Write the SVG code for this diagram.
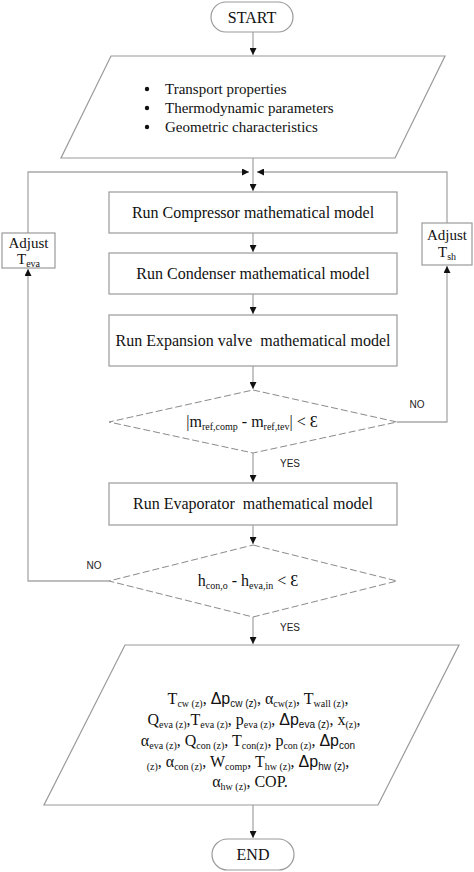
<svg xmlns="http://www.w3.org/2000/svg" width="474" height="872" viewBox="0 0 474 872">
<style>
.bx{fill:#fff;stroke:#9a9a9a;stroke-width:1.2}
.dm{fill:#fff;stroke:#8a8a8a;stroke-width:1;stroke-dasharray:7 3}
.ln{fill:none;stroke:#a8a8a8;stroke-width:1.3}
.t{font-family:"Liberation Serif","Times New Roman",serif;fill:#111}
.s{font-family:"Liberation Sans",Arial,sans-serif;fill:#111}
.lb{font-family:"Liberation Sans",Arial,sans-serif;font-size:10px;fill:#222}
.sb{font-size:10px;baseline-shift:-3px}
</style>
<defs>
<marker id="ah" viewBox="0 0 8 8" refX="8" refY="4" markerWidth="7" markerHeight="7" markerUnits="userSpaceOnUse" orient="auto">
<path d="M0,0 L8,4 L0,8 z" fill="#111"/>
</marker>
</defs>
<rect width="474" height="872" fill="#fff"/>
<g id="connectors">
<line class="ln" x1="253" y1="32" x2="253" y2="55" marker-end="url(#ah)"/>
<line class="ln" x1="253" y1="158" x2="253" y2="191" marker-end="url(#ah)"/>
<polyline class="ln" points="28,233 28,172 249,172" marker-end="url(#ah)"/>
<polyline class="ln" points="447,223 447,172 257,172" marker-end="url(#ah)"/>
<line class="ln" x1="253" y1="233" x2="253" y2="252" marker-end="url(#ah)"/>
<line class="ln" x1="253" y1="294" x2="253" y2="314" marker-end="url(#ah)"/>
<line class="ln" x1="253" y1="366" x2="253" y2="389" marker-end="url(#ah)"/>
<polyline class="ln" points="397,422 447,422 447,266" marker-end="url(#ah)"/>
<line class="ln" x1="253" y1="453" x2="253" y2="482" marker-end="url(#ah)"/>
<line class="ln" x1="253" y1="525" x2="253" y2="544" marker-end="url(#ah)"/>
<polyline class="ln" points="109,581 28,581 28,269" marker-end="url(#ah)"/>
<line class="ln" x1="253" y1="617" x2="253" y2="644" marker-end="url(#ah)"/>
<line class="ln" x1="253" y1="805" x2="253" y2="838" marker-end="url(#ah)"/>
<text class="lb" x="417" y="408" text-anchor="middle">NO</text>
<text class="lb" x="290" y="467" text-anchor="middle">YES</text>
<text class="lb" x="94" y="569" text-anchor="middle">NO</text>
<text class="lb" x="290" y="631" text-anchor="middle">YES</text>
</g>
<g id="start">
<rect class="bx" x="211" y="2" width="82" height="30" rx="15"/>
<text class="t" x="252" y="23" font-size="16" text-anchor="middle">START</text>
</g>
<g id="input">
<polygon class="bx" points="111,56 445,56 395,158 61,158"/>
<circle cx="147" cy="89" r="2.2" fill="#111"/>
<circle cx="147" cy="108" r="2.2" fill="#111"/>
<circle cx="147" cy="127" r="2.2" fill="#111"/>
<text class="t" font-size="15" x="165" y="94">Transport properties</text>
<text class="t" font-size="15" x="165" y="113">Thermodynamic parameters</text>
<text class="t" font-size="15" x="165" y="132">Geometric characteristics</text>
</g>
<g id="compressor">
<rect class="bx" x="109" y="192" width="288" height="41"/>
<text class="t" x="253" y="218" font-size="16" text-anchor="middle">Run Compressor mathematical model</text>
</g>
<g id="condenser">
<rect class="bx" x="109" y="253" width="288" height="41"/>
<text class="t" x="253" y="279" font-size="16" text-anchor="middle">Run Condenser mathematical model</text>
</g>
<g id="expansion">
<rect class="bx" x="109" y="315" width="288" height="51"/>
<text class="t" x="253" y="346" font-size="16" text-anchor="middle" xml:space="preserve">Run Expansion valve  mathematical model</text>
</g>
<g id="adjust-teva">
<rect class="bx" x="2" y="233" width="53" height="35"/>
<text class="t" x="28.5" y="248" font-size="15" text-anchor="middle">Adjust</text>
<text class="t" x="28.5" y="264" font-size="15" text-anchor="middle">T<tspan class="sb">eva</tspan></text>
</g>
<g id="adjust-tsh">
<rect class="bx" x="422" y="223" width="50" height="42"/>
<text class="t" x="447" y="240" font-size="15" text-anchor="middle">Adjust</text>
<text class="t" x="447" y="257" font-size="15" text-anchor="middle">T<tspan class="sb">sh</tspan></text>
</g>
<g id="decision-mass">
<polygon class="dm" points="253,390 397,422 253,453 109,422"/>
<text class="t" x="252" y="427" font-size="16" text-anchor="middle">|m<tspan class="sb">ref,comp</tspan> - m<tspan class="sb">ref,tev</tspan>| &lt; Ɛ</text>
</g>
<g id="evaporator">
<rect class="bx" x="109" y="483" width="288" height="42"/>
<text class="t" x="253" y="509" font-size="16" text-anchor="middle" xml:space="preserve">Run Evaporator  mathematical model</text>
</g>
<g id="decision-enthalpy">
<polygon class="dm" points="253,545 397,581 253,617 109,581"/>
<text class="t" x="248" y="586" font-size="16" text-anchor="middle">h<tspan class="sb">con,o</tspan> - h<tspan class="sb">eva,in</tspan> &lt; Ɛ</text>
</g>
<g id="output">
<polygon class="bx" points="125,645 459,645 378,805 44,805"/>
<text class="t" x="258" y="704" font-size="16" text-anchor="middle">T<tspan class="sb">cw (z)</tspan>, <tspan class="s">Δp</tspan><tspan class="sb s">cw (z)</tspan>, α<tspan class="sb">cw(z)</tspan>, T<tspan class="sb">wall (z)</tspan>,</text>
<text class="t" x="254" y="725" font-size="16" text-anchor="middle">Q<tspan class="sb">eva (z)</tspan>,T<tspan class="sb">eva (z)</tspan>, p<tspan class="sb">eva (z)</tspan>, <tspan class="s">Δp</tspan><tspan class="sb s">eva (z)</tspan>, x<tspan class="sb">(z)</tspan>,</text>
<text class="t" x="248" y="746" font-size="16" text-anchor="middle">α<tspan class="sb">eva (z)</tspan>, Q<tspan class="sb">con (z)</tspan>, T<tspan class="sb">con(z)</tspan>, p<tspan class="sb">con (z)</tspan>, <tspan class="s">Δp</tspan><tspan class="sb s">con</tspan></text>
<text class="t" x="248" y="767" font-size="16" text-anchor="middle"><tspan class="sb">(z)</tspan>, α<tspan class="sb">con (z)</tspan>, W<tspan class="sb">comp</tspan>, T<tspan class="sb">hw (z)</tspan>, <tspan class="s">Δp</tspan><tspan class="sb s">hw (z)</tspan>,</text>
<text class="t" x="250" y="787" font-size="16" text-anchor="middle">α<tspan class="sb">hw (z)</tspan>, COP.</text>
</g>
<g id="end">
<rect class="bx" x="212" y="839" width="82" height="31" rx="15.5"/>
<text class="t" x="253" y="860" font-size="16" text-anchor="middle">END</text>
</g>
</svg>
